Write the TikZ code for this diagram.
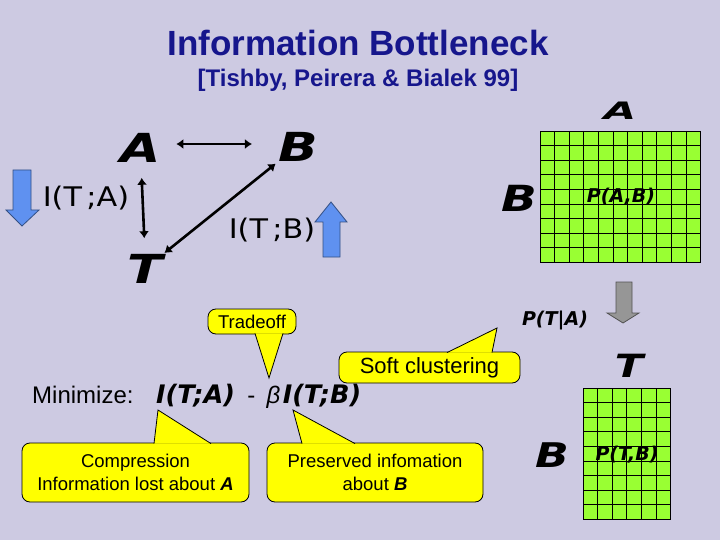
\documentclass[tikz,border=0pt]{standalone}
\usepackage{fontspec}
\setmainfont{Liberation Sans}
\newfontfamily\comicfont{DejaVu Sans}
\newfontfamily\letterfont[FakeStretch=1.3]{DejaVu Sans}
\newfontfamily\infofont[FakeStretch=1.12]{DejaVu Sans}
\usetikzlibrary{positioning,arrows.meta}

\definecolor{slidebg}{RGB}{205,202,226}
\definecolor{titleblue}{RGB}{22,22,140}
\definecolor{cellgreen}{RGB}{153,255,51}
\definecolor{calloutyellow}{RGB}{255,255,0}
\definecolor{arrowblue}{RGB}{95,145,240}
\definecolor{arrowgray}{RGB}{150,150,150}

\tikzset{
  bigletter/.style={font=\letterfont\bfseries\itshape\fontsize{#1}{#1}\selectfont, inner sep=0pt},
  bigletter/.default=40,
  infolabel/.style={font=\infofont\fontsize{27}{27}\selectfont, inner sep=0pt},
  problabel/.style={font=\comicfont\bfseries\itshape\fontsize{19}{19}\selectfont, inner sep=0pt},
  callout/.style={draw=black, line width=0.8pt, fill=calloutyellow, rounded corners=8pt,
    align=center, inner sep=2pt, font=\fontsize{18.5}{23}\selectfont},
  pointer/.style={draw=black, line width=0.8pt, fill=calloutyellow, line join=miter},
  linkarrow/.style={line width=2.6pt, {Latex[length=7pt,width=10pt]}-{Latex[length=7pt,width=10pt]}},
  blockarrow/.style={draw=#1!55!black, line width=0.8pt, fill=#1},
  cellgrid/.style={line width=0.8pt, black},
  costterm/.style={font=\comicfont\bfseries\itshape\fontsize{25.5}{25.5}\selectfont, inner sep=0pt, anchor=base west}
}

\begin{document}
\begin{tikzpicture}[x=1pt,y=-1pt]
\fill[slidebg] (0,0) rectangle (720,540);
\useasboundingbox (0,0) rectangle (720,540);

% title
\node[font=\bfseries\fontsize{35}{35}\selectfont, text=titleblue] (title) at (358,43) {Information Bottleneck};
\node[font=\bfseries\fontsize{24}{24}\selectfont, text=titleblue] (cite) at (358,80) {[Tishby, Peirera \& Bialek 99]};

% the three variables
\node[bigletter] (a) at (141,148) {A};
\node[bigletter] (b) at (298,147) {B};
\node[bigletter] (t) at (145,269) {T};

\draw[linkarrow, shorten <=15pt, shorten >=26pt] ([yshift=4pt]a.east) -- ([yshift=3pt]b.west);
\draw[linkarrow, shorten <=15pt, shorten >=16pt] (a.south) -- (t.north);
\draw[linkarrow, shorten <=3pt, shorten >=2pt] (b.south west) -- (t.north east);

\node[infolabel] (ita) at (86,198) {I(T\,;A)};
\node[infolabel] (itb) at (272,230) {I(T\,;B)};

\draw[blockarrow=arrowblue] (13,170) -- (31,170) -- (31,210) -- (39,210) -- (22,226) -- (6,210) -- (13,210) -- cycle;
\draw[blockarrow=arrowblue] (323,257) -- (340,257) -- (340,222) -- (347,222) -- (331,202) -- (315,222) -- (323,222) -- cycle;

% joint distribution P(A,B)
\fill[cellgreen] (540,131) rectangle (700.6,262.4);
\foreach \i in {0,...,11}
  \draw[cellgrid] (540+\i*14.6,131) -- (540+\i*14.6,262.4);
\foreach \j in {0,...,9}
  \draw[cellgrid] (540,131+\j*14.6) -- (700.6,131+\j*14.6);
\node[bigletter=24] (topa) at (620,111) {\scalebox{1.35}[1]{A}};
\node[bigletter=36] (leftb) at (519,198) {B};
\node[problabel] (pab) at (621,197) {P(A,B)};

\draw[blockarrow=arrowgray] (616,282) -- (632,282) -- (632,313) -- (639,313) -- (623,323) -- (607,313) -- (616,313) -- cycle;
\node[problabel] (pta) at (555,320) {P(T|A)};

% joint distribution P(T,B)
\fill[cellgreen] (583,388) rectangle (670.6,519.4);
\foreach \i in {0,...,6}
  \draw[cellgrid] (583+\i*14.6,388) -- (583+\i*14.6,519.4);
\foreach \j in {0,...,9}
  \draw[cellgrid] (583,388+\j*14.6) -- (670.6,388+\j*14.6);
\node[bigletter=32] (topt) at (629,366) {T};
\node[bigletter=34] (lowb) at (552,455) {B};
\node[problabel] (ptb) at (627,455) {P(T,B)};

% callouts
\coordinate (tradetip) at (269,378);
\coordinate (softtip) at (497,328);
\coordinate (comptip) at (158,410);
\coordinate (prestip) at (293,410);

\node[callout, minimum width=88pt, minimum height=25pt] (trade) at (252,321.5) {Tradeoff};
\draw[pointer] (255,333.4) -- (tradetip) -- (283,333.4);

\node[callout, minimum width=181pt, minimum height=31pt, font=\fontsize{22}{22}\selectfont] (soft) at (429.5,367.5) {Soft clustering};
\draw[pointer] (447,352.6) -- (softtip) -- (492,352.6);

\node[callout, minimum width=227pt, minimum height=59pt] (comp) at (135.5,472.5) {Compression\\Information lost about {\bfseries\itshape A}};
\draw[pointer] (154,443.6) -- (comptip) -- (211,443.6);

\node[callout, minimum width=216pt, minimum height=59pt] (pres) at (375,472.5) {Preserved infomation\\about {\bfseries\itshape B}};
\draw[pointer] (302,443.6) -- (prestip) -- (355,443.6);

% objective
\node[font=\fontsize{24}{24}\selectfont, anchor=base west, inner sep=0pt] (minimize) at (32,403) {Minimize:};
\node[costterm] (costa) at (156,403) {I(T;A)};
\node[font=\fontsize{24}{24}\selectfont, inner sep=0pt, right=12pt of costa.base east, anchor=base west] (minus) {-};
\node[font=\itshape\fontsize{24}{24}\selectfont, inner sep=0pt, right=11pt of minus.base east, anchor=base west] (beta) {β};
\node[costterm, right=2pt of beta.base east, anchor=base west] (costb) {I(T;B)};
\end{tikzpicture}
\end{document}
